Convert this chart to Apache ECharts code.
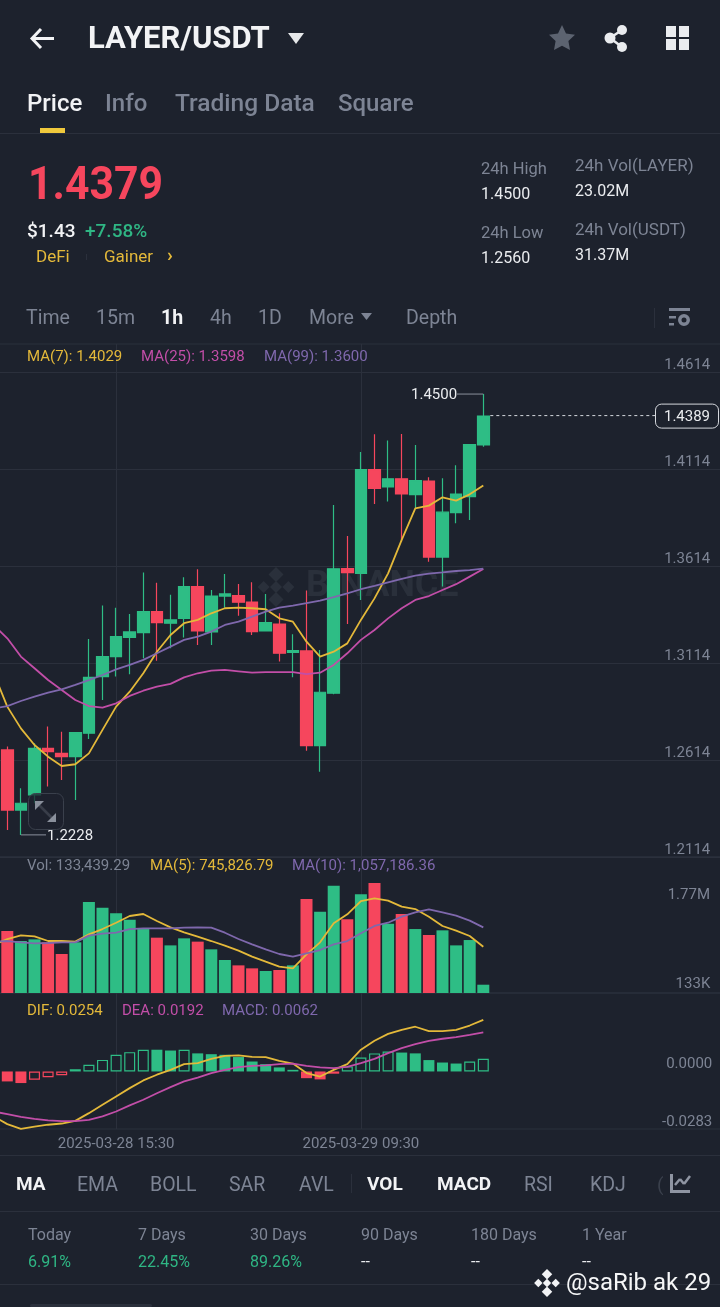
<!DOCTYPE html>
<html>
<head>
<meta charset="utf-8">
<title>LAYER/USDT</title>
<script src="https://cdn.jsdelivr.net/npm/echarts@6/dist/echarts.min.js"></script>
<style>
html, body { margin: 0; padding: 0; background: #1d222d; }
#chart { width: 720px; height: 1307px; }
</style>
</head>
<body>
<div id="chart"></div>
<script>
// hourly candles, [open, close, low, high]
var times = ['2025-03-28 07:30','2025-03-28 08:30','2025-03-28 09:30','2025-03-28 10:30','2025-03-28 11:30','2025-03-28 12:30',
	'2025-03-28 13:30','2025-03-28 14:30','2025-03-28 15:30','2025-03-28 16:30','2025-03-28 17:30','2025-03-28 18:30',
	'2025-03-28 19:30','2025-03-28 20:30','2025-03-28 21:30','2025-03-28 22:30','2025-03-28 23:30','2025-03-29 00:30',
	'2025-03-29 01:30','2025-03-29 02:30','2025-03-29 03:30','2025-03-29 04:30','2025-03-29 05:30','2025-03-29 06:30',
	'2025-03-29 07:30','2025-03-29 08:30','2025-03-29 09:30','2025-03-29 10:30','2025-03-29 11:30','2025-03-29 12:30',
	'2025-03-29 13:30','2025-03-29 14:30','2025-03-29 15:30','2025-03-29 16:30','2025-03-29 17:30','2025-03-29 18:30'];
var candles = [
	[1.2666,1.2356,1.2253,1.2683],[1.2356,1.2391,1.2228,1.2468],[1.2434,1.2674,1.2391,1.2700],[1.2674,1.2657,1.2477,1.2786],
	[1.2648,1.2631,1.2511,1.2760],[1.2631,1.2755,1.2408,1.2755],[1.2752,1.3040,1.2722,1.3238],[1.3044,1.3147,1.2923,1.3410],
	[1.3147,1.3250,1.3044,1.3399],[1.3246,1.3274,1.3056,1.3367],[1.3270,1.3379,1.3138,1.3580],[1.3379,1.3322,1.3126,1.3528],
	[1.3319,1.3336,1.3190,1.3465],[1.3344,1.3508,1.3245,1.3556],[1.3508,1.3279,1.3207,1.3597],[1.3274,1.3459,1.3207,1.3490],
	[1.3459,1.3470,1.3399,1.3573],[1.3461,1.3427,1.3358,1.3521],[1.3428,1.3276,1.3258,1.3530],[1.3279,1.3322,1.3279,1.3470],
	[1.3315,1.3164,1.3121,1.3370],[1.3169,1.3178,1.3040,1.3262],[1.3176,1.2688,1.2662,1.3487],[1.2688,1.2963,1.2554,1.3181],
	[1.2958,1.3599,1.2953,1.3928],[1.3600,1.3580,1.3315,1.3769],[1.3576,1.4111,1.3439,1.4202],[1.4111,1.4014,1.3934,1.4293],
	[1.4021,1.4063,1.3946,1.4260],[1.4063,1.3985,1.3739,1.4294],[1.3982,1.4054,1.3911,1.4238],[1.4052,1.3660,1.3636,1.4071],
	[1.3660,1.3891,1.3508,1.4066],[1.3889,1.3985,1.3834,1.4133],[1.3971,1.4239,1.3851,1.4239],[1.4238,1.4387,1.4229,1.4500]
];
// the line arrays carry one extra leading value, for the hour just left of the visible window
var ma7 = [1.3061,1.2889,1.2777,1.2691,1.2631,1.2583,1.2592,1.2648,1.2769,1.2889,1.2966,1.3061,1.3172,1.3258,1.3319,1.3336,1.3370,1.3396,1.3399,
	1.3396,1.3391,1.3344,1.3327,1.3224,1.3147,1.3172,1.3215,1.3336,1.3447,1.3576,1.3748,1.3911,1.3925,1.3968,1.3951,1.3983,1.4029];
var ma25 = [1.3310,1.3241,1.3147,1.3087,1.3026,1.2975,1.2923,1.2892,1.2884,1.2906,1.2944,1.2971,1.2992,1.3006,1.3040,1.3061,1.3075,1.3078,1.3071,
	1.3064,1.3067,1.3067,1.3067,1.3057,1.3064,1.3104,1.3164,1.3233,1.3284,1.3344,1.3396,1.3439,1.3459,1.3490,1.3520,1.3559,1.3598];
var ma99 = [1.2880,1.2892,1.2918,1.2941,1.2961,1.2978,1.3001,1.3026,1.3052,1.3081,1.3104,1.3130,1.3164,1.3198,1.3233,1.3250,1.3276,1.3310,1.3327,
	1.3353,1.3379,1.3399,1.3410,1.3422,1.3435,1.3453,1.3473,1.3494,1.3511,1.3530,1.3547,1.3564,1.3575,1.3581,1.3588,1.3593,1.3600];
var volumes = [998000,837000,864000,816000,628000,816000,1465000,1374000,1283000,1181000,1030000,891000,767000,880000,827000,703000,531000,445000,
	397000,354000,370000,445000,1513000,1310000,1728000,1186000,1589000,1770000,1116000,1272000,1030000,934000,1009000,767000,853000,133439];
var volMa5 = [773000,869000,928000,912000,837000,837000,827000,945000,1030000,1132000,1240000,1272000,1159000,1057000,977000,907000,837000,762000,682000,
	585000,504000,424000,397000,623000,816000,1122000,1267000,1481000,1524000,1487000,1390000,1352000,1229000,1079000,1004000,918000,745827];
var volMa10 = [827000,837000,816000,800000,805000,816000,816000,923000,955000,971000,1030000,1041000,1041000,1041000,1052000,1057000,1052000,971000,869000,
	784000,703000,628000,585000,639000,692000,784000,837000,961000,1079000,1132000,1229000,1299000,1347000,1299000,1245000,1165000,1057186];
var macdHist = [-0.0049,-0.0057,-0.0041,-0.0028,-0.0018,0.0011,0.0033,0.0057,0.0082,0.0095,0.0107,0.0107,0.0103,0.0107,0.0089,0.0085,0.0082,0.0071,
	0.0049,0.0036,0.0020,0.0008,-0.0033,-0.0039,-0.0011,0.0025,0.0069,0.0089,0.0098,0.0093,0.0089,0.0056,0.0044,0.0039,0.0049,0.0062];
var macdHollow = [2,3,4,6,7,8,9,10,13,25,26,27,28,34,35];
var dif = [-0.0221,-0.0259,-0.0282,-0.0271,-0.0262,-0.0256,-0.0243,-0.0205,-0.0164,-0.0123,-0.0082,-0.0044,-0.0016,0.0008,0.0036,0.0041,0.0062,0.0077,0.0079,
	0.0072,0.0071,0.0052,0.0039,-0.0008,-0.0025,0.0008,0.0036,0.0107,0.0151,0.0185,0.0205,0.0220,0.0198,0.0198,0.0205,0.0226,0.0254];
var dea = [-0.0197,-0.0210,-0.0223,-0.0233,-0.0241,-0.0244,-0.0244,-0.0238,-0.0221,-0.0197,-0.0167,-0.0139,-0.0107,-0.0077,-0.0049,-0.0030,-0.0008,0.0008,0.0021,
	0.0028,0.0030,0.0036,0.0039,0.0028,0.0020,0.0016,0.0023,0.0041,0.0062,0.0090,0.0115,0.0134,0.0151,0.0161,0.0169,0.0180,0.0192];
var priceTicks = [1.2114,1.2614,1.3114,1.3614,1.4114,1.4614];
var macdTicks = [-0.0283,0];
var lastPrice = 1.4389;
var timeLabelIdx = [9,27];

var bg = '#1d222d', line = '#2b303c', gray = '#7d8494', white = '#eaecef';
var green = '#2ebd85', red = '#f6465d', yellow = '#e4b93a', pink = '#c24ea8', purple = '#7f68ad';
var font = 'Roboto, sans-serif';

// one empty slot on the left so the MA lines run off the edge, 17 empty slots on the right
var xData = [''].concat(times, new Array(17).fill(''));
var pad = ['-'];

var volData = pad.concat(volumes.map(function(v, i){
	var up = candles[i][1] >= candles[i][0];
	return {value: v, itemStyle: {color: up ? green : red}};
}));
var histData = pad.concat(macdHist.map(function(v, i){
	var c = v >= 0 ? green : red;
	if(macdHollow.indexOf(i) >= 0){
		return {value: v, itemStyle: {color: bg, borderColor: c, borderWidth: 1.2}};
	}
	return {value: v, itemStyle: {color: c}};
}));

function xAxis(gridIndex, showLabel){
	return {
		type: 'category',
		gridIndex: gridIndex,
		data: xData,
		boundaryGap: true,
		axisLine: {show: false},
		axisTick: {show: false, alignWithLabel: true},
		axisLabel: {
			show: showLabel,
			color: gray,
			fontSize: 15,
			fontFamily: font,
			margin: 8,
			hideOverlap: false,
			interval: function(i){ return timeLabelIdx.indexOf(i) >= 0; }
		},
		splitLine: {
			show: true,
			alignWithLabel: true,
			interval: function(i){ return timeLabelIdx.indexOf(i) >= 0; },
			lineStyle: {color: line}
		}
	};
}

function lineSeries(name, data, color, x, y){
	return {
		name: name,
		type: 'line',
		data: data,
		xAxisIndex: x,
		yAxisIndex: y,
		showSymbol: false,
		silent: true,
		z: 5,
		lineStyle: {color: color, width: 1.8}
	};
}

var gridBase = {left: -13.1, right: -1.3, outerBoundsMode: 'none', show: true, borderColor: line, borderWidth: 1};

var option = {
	backgroundColor: bg,
	animation: false,
	grid: [
		Object.assign({top: 344, height: 513}, gridBase),
		Object.assign({top: 857, height: 136}, gridBase),
		Object.assign({top: 993, height: 136}, gridBase)
	],
	xAxis: [xAxis(0, false), xAxis(1, false), xAxis(2, true)],
	yAxis: [
		{
			type: 'value', gridIndex: 0, position: 'right',
			min: 1.2114, max: 1.4758, scale: true,
			axisLine: {show: false},
			axisTick: {show: false, customValues: priceTicks},
			axisLabel: {
				inside: true, customValues: priceTicks, color: gray, fontSize: 15, fontFamily: font, margin: 11,
				verticalAlign: 'bottom', lineHeight: 13,
				formatter: function(v){ return v.toFixed(4); }
			},
			splitLine: {show: true, lineStyle: {color: line}}
		},
		{
			type: 'value', gridIndex: 1, position: 'right',
			min: 0, max: 2190000,
			axisLine: {show: false},
			axisTick: {show: false},
			axisLabel: {
				inside: true, customValues: [133439], color: gray, fontSize: 15, fontFamily: font, margin: 11,
				padding: [3, 0, 0, 0],
				formatter: function(v){ return Math.round(v / 1000) + 'K'; }
			},
			splitLine: {show: false}
		},
		{
			type: 'value', gridIndex: 2, position: 'right',
			min: -0.0283, max: 0.0386,
			axisLine: {show: false},
			axisTick: {show: false},
			axisLabel: {
				inside: true, customValues: macdTicks, color: gray, fontSize: 15, fontFamily: font, margin: 9,
				verticalAlign: 'bottom', lineHeight: 14,
				formatter: function(v){ return v.toFixed(4); }
			},
			splitLine: {show: false}
		}
	],
	series: [
		{
			name: 'LAYER/USDT',
			type: 'candlestick',
			xAxisIndex: 0,
			yAxisIndex: 0,
			barWidth: 12,
			data: pad.concat(candles),
			itemStyle: {color: green, color0: red, borderColor: green, borderColor0: red, borderWidth: 1.2}
		},
		lineSeries('MA(7)', ma7, yellow, 0, 0),
		lineSeries('MA(25)', ma25, pink, 0, 0),
		lineSeries('MA(99)', ma99, purple, 0, 0),
		{name: 'Vol', type: 'bar', xAxisIndex: 1, yAxisIndex: 1, barWidth: 12, data: volData},
		lineSeries('MA(5)', volMa5, yellow, 1, 1),
		lineSeries('MA(10)', volMa10, purple, 1, 1),
		{name: 'MACD', type: 'bar', xAxisIndex: 2, yAxisIndex: 2, barWidth: 11, data: histData},
		lineSeries('DIF', dif, yellow, 2, 2),
		lineSeries('DEA', dea, pink, 2, 2)
	]
};

var chart = echarts.init(document.getElementById('chart'), null, {renderer: 'canvas'});
chart.setOption(option);

function txt(x, y, s, color, size, weight, align){
	return {
		type: 'text', z: 20, silent: true,
		style: {
			x: x, y: y + 1.5, text: s, fill: color,
			font: (weight || 400) + ' ' + size + 'px ' + font,
			align: align || 'left', verticalAlign: 'middle'
		}
	};
}
function seg(x1, y1, x2, y2, color, w, dash){
	return {
		type: 'line', z: 15, silent: true,
		shape: {x1: x1, y1: y1, x2: x2, y2: y2},
		style: {stroke: color, lineWidth: w || 1, lineDash: dash || null}
	};
}
function poly(points, fill, z){
	return {type: 'polygon', z: z || 20, silent: true, shape: {points: points}, style: {fill: fill}};
}
function rect(x, y, w, h, fill, r){
	return {type: 'rect', z: 20, silent: true, shape: {x: x, y: y, width: w, height: h, r: r || 0}, style: {fill: fill}};
}
function diamond(cx, cy, r, fill, z){
	return poly([[cx, cy - r], [cx + r, cy], [cx, cy + r], [cx - r, cy]], fill, z);
}
// the exchange logo: a middle diamond and four around it
function logo(cx, cy, r, fill, z){
	var a = r * 0.62, b = r * 0.3;
	return [
		diamond(cx, cy, b, fill, z),
		diamond(cx, cy - a, b * 1.25, fill, z), diamond(cx, cy + a, b * 1.25, fill, z),
		diamond(cx - a, cy, b, fill, z), diamond(cx + a, cy, b, fill, z)
	];
}

var hiPt = chart.convertToPixel({gridIndex: 0}, [36, 1.45]);
var loPt = chart.convertToPixel({gridIndex: 0}, [2, 1.2228]);
var lastPt = chart.convertToPixel({gridIndex: 0}, [36, lastPrice]);

var bigPrice = txt(28, 186, '1.4379', red, 46, 700);
bigPrice.originX = 28;
bigPrice.scaleX = 0.93;

var g = [
	// header
	seg(32, 38.5, 54, 38.5, '#f2f3f5', 3),
	{type: 'polyline', z: 20, silent: true, shape: {points: [[41, 29], [32, 38.5], [41, 48]]}, style: {fill: 'none', stroke: '#f2f3f5', lineWidth: 3}},
	txt(88, 39, 'LAYER/USDT', '#f2f3f5', 31, 700),
	poly([[288, 33], [304, 33], [296, 44]], '#e6e8ea'),
	poly([[562, 25], [566, 33.5], [575, 34.7], [568.4, 41], [570, 50], [562, 45.7], [554, 50], [555.6, 41], [549, 34.7], [558, 33.5]], '#5c6370'),
	{type: 'circle', z: 20, silent: true, shape: {cx: 610, cy: 38, r: 5.5}, style: {fill: white}},
	{type: 'circle', z: 20, silent: true, shape: {cx: 622, cy: 30, r: 5}, style: {fill: white}},
	{type: 'circle', z: 20, silent: true, shape: {cx: 622, cy: 47, r: 5}, style: {fill: white}},
	seg(610, 38, 622, 30, white, 2.5), seg(610, 38, 622, 47, white, 2.5),
	rect(666, 26, 10, 11, white), rect(679, 26, 10, 11, white), rect(666, 39, 10, 11, white), rect(679, 39, 10, 11, white),
	// tabs
	txt(27, 103, 'Price', '#f2f3f5', 24, 500),
	txt(105, 103, 'Info', gray, 24, 500),
	txt(175, 103, 'Trading Data', gray, 24.5, 500),
	txt(338, 103, 'Square', gray, 24, 500),
	rect(40, 128, 25, 5, '#f0c93c'),
	seg(0, 133.5, 720, 133.5, line),
	// price block
	bigPrice,
	txt(27, 231, '$1.43', '#f2f3f5', 19, 500),
	txt(85, 231, '+7.58%', '#2fb684', 19, 500),
	txt(36, 256, 'DeFi', yellow, 17),
	txt(104, 256, 'Gainer', yellow, 17),
	seg(86.5, 254, 86.5, 260, line),
	txt(167, 255, '›', yellow, 19, 700),
	txt(481, 168, '24h High', gray, 16.5),
	txt(481, 193, '1.4500', white, 16),
	txt(481, 232, '24h Low', gray, 16.5),
	txt(481, 257, '1.2560', white, 16),
	txt(575, 165, '24h Vol(LAYER)', gray, 17),
	txt(575, 190, '23.02M', white, 16),
	txt(575, 229, '24h Vol(USDT)', gray, 17),
	txt(575, 254, '31.37M', white, 16),
	// interval row
	txt(26, 318, 'Time', gray, 19.5),
	txt(96, 318, '15m', gray, 19.5),
	txt(161, 318, '1h', '#f2f3f5', 19.5, 700),
	txt(210, 318, '4h', gray, 19.5),
	txt(258, 318, '1D', gray, 19.5),
	txt(309, 318, 'More', gray, 19.5),
	poly([[361, 313], [372, 313], [366.5, 320]], gray),
	txt(406, 318, 'Depth', gray, 19.5),
	seg(654.5, 308, 654.5, 328, line),
	rect(669, 308, 21, 3, gray), rect(669, 316, 7, 2.5, gray), rect(669, 323, 5, 2.5, gray),
	{type: 'ring', z: 20, silent: true, shape: {cx: 684, cy: 320, r: 6, r0: 2.5}, style: {fill: gray}},
	// legends
	txt(27, 356, 'MA(7): 1.4029', yellow, 15),
	txt(141, 356, 'MA(25): 1.3598', pink, 15),
	txt(264, 356, 'MA(99): 1.3600', purple, 15),
	txt(27, 865, 'Vol: 133,439.29', gray, 15),
	txt(150, 865, 'MA(5): 745,826.79', yellow, 15),
	txt(292, 865, 'MA(10): 1,057,186.36', purple, 15),
	txt(27, 1010, 'DIF: 0.0254', yellow, 15),
	txt(122, 1010, 'DEA: 0.0192', pink, 15),
	txt(222, 1010, 'MACD: 0.0062', purple, 15),
	txt(710, 894, '1.77M', gray, 15, 400, 'right'),
	// high and low markers
	seg(hiPt[0], hiPt[1], 457, hiPt[1], '#8a909c'),
	txt(411, hiPt[1], '1.4500', white, 15),
	seg(loPt[0], loPt[1], 46, loPt[1], '#8a909c'),
	txt(47, loPt[1], '1.2228', white, 15),
	// last price tag
	seg(lastPt[0] + 7, lastPt[1], 655, lastPt[1], '#d5d8dd', 1, [3, 3]),
	{type: 'rect', z: 18, silent: true, shape: {x: 655.5, y: lastPt[1] - 11.5, width: 63, height: 24, r: 6}, style: {fill: bg, stroke: '#d5d8dd', lineWidth: 1}},
	txt(687, lastPt[1], '1.4389', white, 15, 400, 'center'),
	// watermark
	{type: 'text', z: 1, silent: true, style: {x: 306, y: 587, text: 'BINANCE', fill: '#2a303b', font: '700 36px ' + font, verticalAlign: 'middle'}},
	// expand button
	{type: 'rect', z: 20, silent: true, shape: {x: 28.5, y: 793.5, width: 35, height: 36, r: 7}, style: {fill: 'rgba(29,34,45,0.75)', stroke: '#3a404c', lineWidth: 1}},
	seg(36, 802, 55, 821, '#8a909c', 2.5),
	poly([[35, 801], [44, 801], [35, 810]], '#8a909c'),
	poly([[56, 822], [47, 822], [56, 813]], '#8a909c'),
	// indicator row
	seg(0, 1155.5, 720, 1155.5, line),
	txt(16, 1184, 'MA', '#f2f3f5', 19, 700),
	txt(77, 1185, 'EMA', gray, 19.5),
	txt(150, 1185, 'BOLL', gray, 19.5),
	txt(229, 1185, 'SAR', gray, 19.5),
	txt(299, 1185, 'AVL', gray, 19.5),
	seg(351.5, 1174, 351.5, 1193, line),
	txt(367, 1184, 'VOL', '#f2f3f5', 19, 700),
	txt(437, 1184, 'MACD', '#f2f3f5', 19, 700),
	txt(524, 1185, 'RSI', gray, 19.5),
	txt(590, 1185, 'KDJ', gray, 19.5),
	txt(657, 1185, '(', '#3a404c', 19),
	rect(670, 1174, 3, 19, '#8f95a2'), rect(670, 1190, 20, 3, '#8f95a2'),
	seg(675, 1185, 680, 1179, '#8f95a2', 2.5), seg(680, 1179, 684, 1184, '#8f95a2', 2.5), seg(684, 1184, 690, 1176, '#8f95a2', 2.5),
	seg(0, 1211.5, 720, 1211.5, line),
	// returns table
	txt(28, 1234, 'Today', gray, 16),
	txt(138, 1234, '7 Days', gray, 16),
	txt(250, 1234, '30 Days', gray, 16),
	txt(361, 1234, '90 Days', gray, 16),
	txt(471, 1234, '180 Days', gray, 16),
	txt(582, 1234, '1 Year', gray, 16),
	txt(28, 1261, '6.91%', '#2fb684', 16),
	txt(138, 1261, '22.45%', '#2fb684', 16),
	txt(250, 1261, '89.26%', '#2fb684', 16),
	txt(361, 1261, '--', white, 16),
	txt(471, 1261, '--', white, 16),
	txt(582, 1261, '--', white, 16),
	seg(0, 1284.5, 720, 1284.5, line),
	rect(30, 1304, 122, 3, '#2b303c', 2),
	// author stamp
	{type: 'text', z: 21, silent: true, style: {x: 566, y: 1284, text: '@saRib ak 29', fill: '#f5f6f7', font: '400 24px ' + font, verticalAlign: 'middle'}}
].concat(logo(276, 587, 20, '#2a303b', 1), logo(547, 1283, 14, '#f2f3f5', 21));

chart.setOption({graphic: g});
</script>
</body>
</html>
